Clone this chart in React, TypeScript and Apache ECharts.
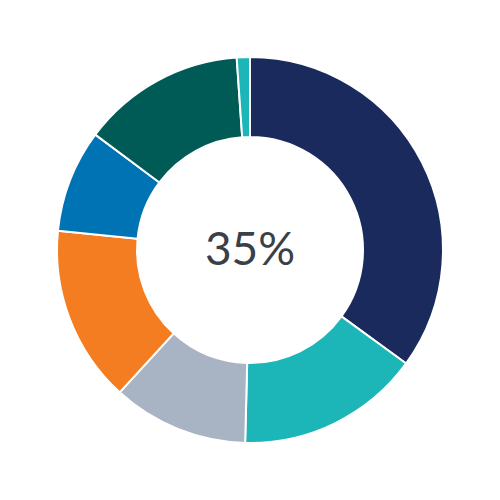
import React, { useEffect, useRef } from 'react'
import * as echarts from 'echarts'

const names = ['Navy', 'Teal', 'Gray', 'Orange', 'Blue', 'Green', 'Small teal']
const values = [35, 15.4, 11.4, 14.8, 8.6, 13.7, 1.1]
const colors = ['#1b2a5c', '#1cb5b8', '#a8b4c3', '#f37d20', '#0073b4', '#005a56', '#1cb5b8']
const centerLabel = '35%'

export default function App(): JSX.Element {
  const ref = useRef<HTMLDivElement>(null)

  useEffect(() => {
    if (!ref.current) return
    const chart = echarts.init(ref.current, null, { renderer: 'svg' })
    chart.setOption({
      animation: false,
      graphic: [{
        type: 'text', left: 'center', top: 224,
        style: { text: centerLabel, fontSize: 46, fontFamily: 'Lato', fill: '#3b3f48' }
      }],
      series: [{
        type: 'pie',
        center: ['50%', '50%'],
        radius: ['45.2%', '77.2%'],
        startAngle: 90,
        clockwise: true,
        label: { show: false },
        labelLine: { show: false },
        itemStyle: { borderColor: '#ffffff', borderWidth: 2 },
        emphasis: { disabled: true },
        data: names.map((n, i) => ({ name: n, value: values[i], itemStyle: { color: colors[i] } }))
      }]
    })
    return () => { chart.dispose() }
  }, [])

  return <div ref={ref} style={{ position: 'fixed', left: 0, top: 0, width: 500, height: 500, background: '#fff' }} />
}
